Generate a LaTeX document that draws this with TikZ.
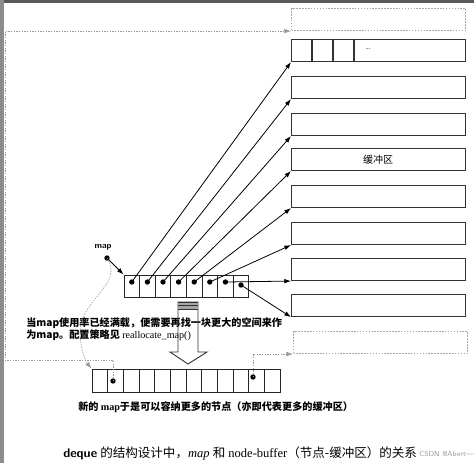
\documentclass[tikz,border=0pt]{standalone}
\usepackage{fontspec}
\setmainfont{Liberation Serif}
\newfontfamily\cjk{Noto Sans CJK SC}
\usetikzlibrary{arrows.meta,calc}
\begin{document}
\begin{tikzpicture}[x=0.75pt,y=-0.75pt,
  buf/.style={draw=black!80,line width=0.8pt,minimum width=130.5pt,minimum height=16.5pt,inner sep=0pt,anchor=north west},
  dbuf/.style={buf,draw=black!35,dash pattern=on 1.2pt off 1pt},
  cell/.style={draw=black!85,line width=0.7pt,minimum width=11.7pt,minimum height=16.5pt,inner sep=0pt},
  ncell/.style={draw=black!85,line width=0.7pt,minimum width=11.75pt,minimum height=17.25pt,inner sep=0pt},
  ptr/.style={line width=0.6pt,-{Latex[length=5pt,width=3.5pt]}},
  dotl/.style={draw=black!40,line width=0.5pt,dash pattern=on 1pt off 1pt},
  dot/.style={circle,fill=black,inner sep=0pt,minimum size=4pt},
  lbl/.style={font=\cjk\fontsize{7.6pt}{9pt}\selectfont\bfseries,inner sep=0pt}
]
\useasboundingbox (0,0) rectangle (474,463);
% screenshot borders
\fill[black!65] (0,0) rectangle (474,3);
\fill[black!45] (0,0) rectangle (4,463);

% buffers
\node[dbuf] (b0) at (291,8) {};
\node[buf] (b1) at (291,39) {};
\node[buf] (b2) at (291,76) {};
\node[buf] (b3) at (291,113) {};
\node[buf] (b4) at (291,148) {};
\node[buf] (b5) at (291,185) {};
\node[buf] (b6) at (291,222) {};
\node[buf] (b7) at (291,258) {};
\node[buf] (b8) at (291,294) {};
\node[dbuf] (b9) at (293,331) {};
\draw[black!80,line width=0.8pt] (312,39) -- (312,61) (333,39) -- (333,61) (354,39) -- (354,61);
\node[font=\tiny] (dd) at (368,49) {...};
\node[lbl,font=\cjk\fontsize{7.5pt}{9pt}\selectfont] (hc) at (378,160) {缓冲区};

% old map
\foreach \i in {1,...,8} {
  \node[cell] (m\i) at ({124+15.6*(\i-0.5)},286) {};
  \coordinate (d\i) at ($(m\i.center)+(0,-4)$);
}
\coordinate (d8) at ($(m8.center)+(0,-1)$);
\foreach \i in {1,...,8} \node[dot] at (d\i) {};

% pointers from old map
\draw[ptr] (d1) -- (b1.south west);
\draw[ptr] (d2) -- (b2.south west);
\draw[ptr] (d3) -- (b3.south west);
\draw[ptr] (d4) -- (b4.south west);
\draw[ptr] (d5) -- (b5.south west);
\draw[ptr] (d6) -- (b6.south west);
\draw[ptr] (d7) -- (b7.south west);
\draw[ptr] (d8) -- (b8.south west);

% map label
\node[font=\sffamily\bfseries\fontsize{6.5pt}{7pt}\selectfont,inner sep=0pt] (ml) at (103,247) {map};
\coordinate (mp) at (107,258);
\node[dot] at (mp) {};
\draw[ptr] (mp) -- (m1.north west);

% new map
\foreach \i in {1,...,12} {
  \node[ncell] (n\i) at ({92+15.67*(\i-0.5)},380.5) {};
}
\coordinate (e2) at (113,381);
\coordinate (e11) at (253,377);
\node[dot] at (e2) {};
\node[dot] at (e11) {};

% dotted connections
\draw[dotl,-{Latex[length=5pt,width=3.5pt]}] (e2) |- (5,360) |- (b0.south west);
\draw[dotl,-{Latex[length=5pt,width=3.5pt]}] (e11) |- (b9.south west);
\draw[dotl,-{Latex[length=5pt,width=3.5pt]}] (mp) .. controls (125,285) and (78,300) .. (80,335) .. controls (81,352) and (86,362) .. (n1.north west);

% texts
\node[lbl,anchor=west] (t1) at (26,323) {当map使用率已经满载，便需要再找一块更大的空间来作};
\node[lbl,anchor=west] (t2) at (26,335) {为map。配置策略见 {\rmfamily\mdseries reallocate\_map()}};

% hollow arrow
\draw[black!80,line width=0.7pt] (178,302) -- (198,302) -- (198,352) -- (207,352) -- (188,364) -- (170,352) -- (178,352) -- cycle;
\fill[black!35] (178,302) rectangle (198,309);
\draw[black!80,line width=0.6pt] (178,302) -- (198,302) (178,305) -- (198,305) (178,309) -- (198,309);

\node[lbl,anchor=west] (t3) at (78,407) {新的 {\rmfamily map}于是可以容纳更多的节点（亦即代表更多的缓冲区）};

% caption
\node[anchor=west,inner sep=0pt,font=\fontsize{9.4pt}{11pt}\selectfont] (cap) at (63,453) {\textsf{\bfseries deque} {\cjk 的结构设计中，}\textit{map} {\cjk 和} node-buffer{\cjk （节点-缓冲区）的关系}};
\node[anchor=west,inner sep=0pt,text=black!40,font=\sffamily\fontsize{5.5pt}{6pt}\selectfont] (wm) at (419,454) {CSDN @Abert—};
\end{tikzpicture}
\end{document}
